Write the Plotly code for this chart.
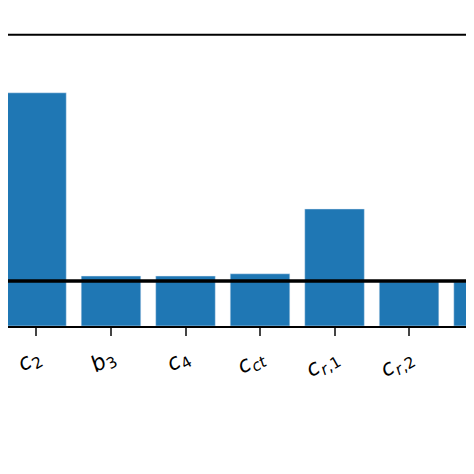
import plotly.graph_objects as go

categories = ["<i>c</i><sub>2</sub>", "<i>b</i><sub>3</sub>", "<i>c</i><sub>4</sub>", "<i>c</i><sub><i>ct</i></sub>",
              "<i>c</i><sub><i>r</i>,1</sub>", "<i>c</i><sub><i>r</i>,2</sub>", "<i>c</i><sub>ε</sub>"]
values = [5.18, 1.11, 1.11, 1.16, 2.6, 0.98, 0.98]
ref_line = 1.0
top_line = 6.47

x = list(range(len(categories)))
fig = go.Figure(go.Bar(x=x, y=values, marker_color="#1f77b4", width=0.8))
fig.add_hline(y=ref_line, line_color="black", line_width=3.5)
fig.add_hline(y=top_line, line_color="black", line_width=2)
fig.update_layout(
    width=474, height=474, margin=dict(l=0, r=0, t=0, b=156),
    plot_bgcolor="white", paper_bgcolor="white", showlegend=False,
    font=dict(family="DejaVu Sans", size=22, color="black"),
)
fig.update_xaxes(range=[-0.382, 5.979], tickvals=x, ticktext=categories, tickangle=-30,
                 showline=True, linecolor="black", linewidth=2, ticks="outside",
                 ticklen=8, tickwidth=2, showgrid=False, zeroline=False)
fig.update_yaxes(range=[0, 7.063], visible=False, showgrid=False)
fig.write_html("out.html")
